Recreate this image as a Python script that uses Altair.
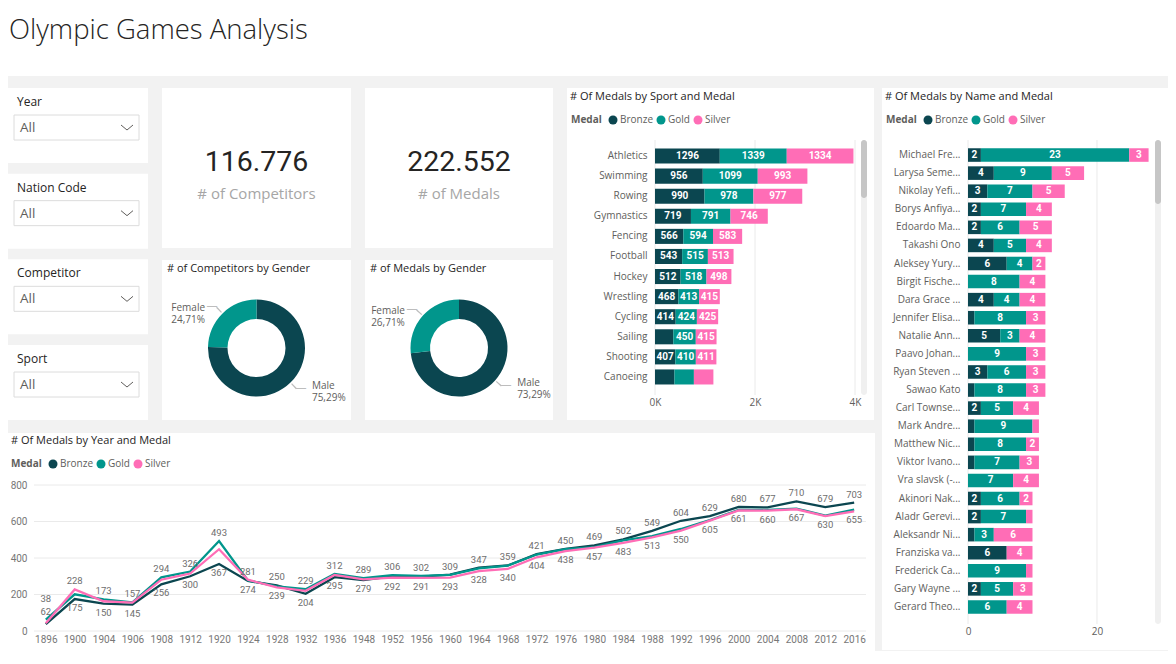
import altair as alt
import pandas as pd

FONT = "Open Sans"
NUM_FONT = "Roboto"
TITLE_C = "#252423"
LABEL_C = "#605E5C"
GRID_C = "#EAEAEA"
BG = "#F2F2F2"
WHITE_VIEW = alt.ViewBackground(fill="white", strokeWidth=0)

# ---------------- data ----------------
MEDALS = ["Bronze", "Gold", "Silver"]
MEDAL_COLORS = ["#0B4650", "#01968C", "#FF6DB6"]

page_title = "Olympic Games Analysis"

slicer_titles = ["Year", "Nation Code", "Competitor", "Sport"]
slicer_values = ["All", "All", "All", "All"]

kpi_values = [116776, 222552]
kpi_labels = ["# of Competitors", "# of Medals"]

genders = ["Male", "Female"]
gender_colors = ["#0B4650", "#01968C"]
donut_titles = ["# of Competitors by Gender", "# of Medals by Gender"]
competitor_gender_pct = [75.29, 24.71]
medal_gender_pct = [73.29, 26.71]

sports = ["Athletics", "Swimming", "Rowing", "Gymnastics", "Fencing", "Football",
          "Hockey", "Wrestling", "Cycling", "Sailing", "Shooting", "Canoeing"]
sport_bronze = [1296, 956, 990, 719, 566, 543, 512, 468, 414, 366, 407, 389]
sport_gold = [1339, 1099, 978, 791, 594, 515, 518, 413, 424, 450, 410, 389]
sport_silver = [1334, 993, 977, 746, 583, 513, 498, 415, 425, 415, 411, 390]
sport_ticks = [0, 2000, 4000]

names = ["Michael Fre...", "Larysa Seme...", "Nikolay Yefi...", "Borys Anfiya...",
         "Edoardo Ma...", "Takashi Ono", "Aleksey Yury...", "Birgit Fische...",
         "Dara Grace ...", "Jennifer Elisa...", "Natalie Ann...", "Paavo Johan...",
         "Ryan Steven ...", "Sawao Kato", "Carl Townse...", "Mark Andre...",
         "Matthew Nic...", "Viktor Ivano...", "Vra slavsk (-...", "Akinori Nak...",
         "Aladr Gerevi...", "Aleksandr Ni...", "Franziska va...", "Frederick Ca...",
         "Gary Wayne ...", "Gerard Theo..."]
name_bronze = [2, 4, 3, 2, 2, 4, 6, 0, 4, 1, 5, 0, 3, 1, 2, 1, 1, 1, 0, 2, 2, 1, 6, 0, 2, 0]
name_gold = [23, 9, 7, 7, 6, 5, 4, 8, 4, 8, 3, 9, 6, 8, 5, 9, 8, 7, 7, 6, 7, 3, 0, 9, 5, 6]
name_silver = [3, 5, 5, 4, 5, 4, 2, 4, 4, 3, 4, 3, 3, 3, 4, 1, 2, 3, 4, 2, 1, 6, 4, 1, 3, 4]
name_ticks = [0, 20]

years = [1896, 1900, 1904, 1906, 1908, 1912, 1920, 1924, 1928, 1932, 1936, 1948, 1952,
         1956, 1960, 1964, 1968, 1972, 1976, 1980, 1984, 1988, 1992, 1996, 2000, 2004,
         2008, 2012, 2016]
year_bronze = [38, 175, 150, 145, 256, 300, 367, 274, 250, 204, 295, 279, 300, 298, 309,
               347, 359, 421, 450, 469, 502, 549, 604, 629, 680, 677, 710, 679, 703]
year_gold = [62, 201, 173, 157, 294, 326, 493, 277, 245, 229, 312, 289, 306, 302, 308,
             343, 358, 419, 448, 460, 497, 520, 559, 608, 663, 664, 671, 632, 665]
year_silver = [43, 228, 163, 156, 281, 315, 448, 281, 239, 220, 307, 283, 292, 291, 293,
               328, 340, 404, 438, 457, 483, 513, 550, 605, 661, 660, 667, 630, 655]
year_ticks = [0, 200, 400, 600, 800]


# ---------------- helpers ----------------
def one(**kw):
    return pd.DataFrame({k: [v] for k, v in kw.items()})


def rect(x1, x2, y1, y2, fill="white", stroke=None, r=0):
    kw = dict(fill=fill, cornerRadius=r, strokeWidth=0)
    if stroke:
        kw.update(stroke=stroke, strokeWidth=1)
    return alt.Chart(one(k=0)).mark_rect(**kw).encode(
        x=alt.value(x1), x2=alt.value(x2), y=alt.value(y1), y2=alt.value(y2))


def text(t, x, y, size=12, color=TITLE_C, font=FONT, align="left",
         baseline="middle", weight="normal"):
    return alt.Chart(one(t=t)).mark_text(
        align=align, baseline=baseline, fontSize=size, color=color,
        font=font, fontWeight=weight).encode(
        text="t:N", x=alt.value(x), y=alt.value(y))


def seg(x1, y1, x2, y2, color=LABEL_C):
    return alt.Chart(one(k=0)).mark_rule(color=color, strokeWidth=1).encode(
        x=alt.value(x1), y=alt.value(y1), x2=alt.value(x2), y2=alt.value(y2))


def medal_legend(x, y):
    return alt.Legend(
        orient="none", legendX=x, legendY=y, direction="horizontal",
        title="Medal", titleOrient="left", titleFont=FONT, titleFontSize=10,
        titleFontWeight="bold", titleColor=LABEL_C, titlePadding=6,
        labelFont=FONT, labelFontSize=10, labelColor=LABEL_C,
        symbolType="circle", symbolSize=81, symbolStrokeWidth=0,
        symbolOpacity=1, columnPadding=3, labelOffset=2)


def H(*charts, spacing=10):
    c = alt.concat(*charts, columns=len(charts), spacing=spacing, align="none")
    return c.resolve_scale(color="independent", theta="independent")


def V(*charts, spacing=10):
    c = alt.concat(*charts, columns=1, spacing=spacing, align="none")
    return c.resolve_scale(color="independent", theta="independent")


# ---------------- panels ----------------
def title_band():
    return text(page_title, 1, 31, size=27.5, weight=300, baseline="alphabetic").properties(
        width=1160, height=68, view=WHITE_VIEW)


def slicer(title, value):
    return alt.layer(
        text(title, 9, 14, size=12),
        rect(6, 131, 27, 52, fill="white", stroke="#DCDCDC"),
        text(value, 12, 40, size=13.5, color=LABEL_C),
        seg(113, 37, 119, 42),
        seg(119, 42, 125, 37),
    ).properties(width=140, height=75, view=WHITE_VIEW)


def kpi(value, label, w):
    num = alt.Chart(one(v=value)).transform_calculate(
        s="replace(format(datum.v, ','), ',', '.')"
    ).mark_text(font=NUM_FONT, fontSize=28.5, color=TITLE_C, baseline="middle",
                align="center").encode(text="s:N", x=alt.value(w / 2), y=alt.value(74))
    lab = text(label, w / 2, 106, size=15, color="#A6A6A6", align="center")
    return alt.layer(num, lab).properties(width=w, height=160, view=WHITE_VIEW)


def donut(title, pct, w):
    df = pd.DataFrame({"g": genders, "pct": pct, "o": [0, 1]})
    base = alt.Chart(df).transform_stack(
        stack="pct", groupby=[], sort=[alt.SortField("o")], as_=["t0", "t1"]
    ).transform_calculate(
        mid="(datum.t0 + datum.t1) / 2",
        m0="(datum.t0 + datum.t1) / 2 - 0.2",
        m1="(datum.t0 + datum.t1) / 2 + 0.2",
        lbl="datum.g + '\\n' + replace(format(datum.pct / 100, '.2%'), '.', ',')",
    )
    tscale = alt.Scale(domain=[0, 100])
    arcs = base.mark_arc(innerRadius=29, outerRadius=48.5).encode(
        theta=alt.Theta("t0:Q", scale=tscale, stack=None), theta2="t1:Q",
        color=alt.Color("g:N", scale=alt.Scale(domain=genders, range=gender_colors),
                        legend=None))
    # short grey leader stubs at each slice's mid angle
    stubs = base.mark_arc(innerRadius=50, outerRadius=57, color="#BDBDBD").encode(
        theta=alt.Theta("m0:Q", scale=tscale, stack=None), theta2="m1:Q")
    fem_dash = base.transform_filter("datum.g == 'Female'").mark_text(
        radius=57, align="right", dx=1, dy=-1, font=FONT, fontSize=11,
        color="#BDBDBD").encode(
        theta=alt.Theta("mid:Q", scale=tscale, stack=None), text=alt.value("\u2014"))
    male_dash = base.transform_filter("datum.g == 'Male'").mark_text(
        radius=57, align="left", dx=-1, dy=-1, font=FONT, fontSize=11,
        color="#BDBDBD").encode(
        theta=alt.Theta("mid:Q", scale=tscale, stack=None), text=alt.value("\u2014"))
    fem = base.transform_filter("datum.g == 'Female'").mark_text(
        radius=62, align="right", dx=-8, dy=4, lineBreak="\n", font=FONT,
        fontSize=10, color=LABEL_C).encode(
        theta=alt.Theta("mid:Q", scale=tscale, stack=None), text="lbl:N")
    male = base.transform_filter("datum.g == 'Male'").mark_text(
        radius=62, align="left", dx=12, dy=-6, lineBreak="\n", font=FONT,
        fontSize=10, color=LABEL_C).encode(
        theta=alt.Theta("mid:Q", scale=tscale, stack=None), text="lbl:N")
    header = text(title, 5, 9, size=11).properties(width=w, height=16, view=WHITE_VIEW)
    body = alt.layer(arcs, stubs, fem_dash, male_dash, fem, male).properties(
        width=w, height=144, view=WHITE_VIEW)
    return V(header, body, spacing=0)


def stacked_panel(cats, b, g, s, ticks, dmax, lab_expr, min_label, title,
                  card_w, card_h, px0, px1, py0, py1, thumb_h):
    rows = []
    for i, c in enumerate(cats):
        for mi, (m, v) in enumerate(zip(MEDALS, (b[i], g[i], s[i]))):
            rows.append({"cat": c, "medal": m, "mi": mi, "v": v})
    df = pd.DataFrame(rows)
    base = alt.Chart(df).transform_stack(
        stack="v", groupby=["cat"], sort=[alt.SortField("mi")], as_=["x0", "x1"]
    ).transform_calculate(mid="(datum.x0 + datum.x1) / 2")
    yscale = alt.Scale(range=[py0, py1], paddingInner=0.25, paddingOuter=0.125)
    yaxis = alt.Axis(offset=-px0, labelPadding=8, labelFont=FONT, labelFontSize=10,
                     labelColor=LABEL_C, labelLimit=200, grid=False,
                     ticks=False, domain=False)
    xscale = alt.Scale(domain=[0, dmax], range=[px0, px1], nice=False, zero=True)
    axis_kw = dict(values=ticks, grid=False, labelPadding=10, offset=-(card_h - py1),
                   labelFont=FONT, labelFontSize=10, labelColor=LABEL_C,
                   labelFlush=False, ticks=False, domain=False)
    if lab_expr:
        axis_kw["labelExpr"] = lab_expr
    xaxis = alt.Axis(**axis_kw)
    xenc = alt.X("x0:Q", scale=xscale, title=None, axis=xaxis)
    yenc = alt.Y("cat:N", sort=cats, title=None, scale=yscale, axis=yaxis)
    grid = alt.Chart(pd.DataFrame({"t": ticks})).mark_rule(color=GRID_C).encode(
        x=alt.X("t:Q", scale=xscale, title=None, axis=xaxis),
        y=alt.value(py0 - 6), y2=alt.value(py1 + 8))
    bars = base.mark_bar().encode(
        x=xenc, x2="x1:Q", y=yenc,
        color=alt.Color("medal:N", scale=alt.Scale(domain=MEDALS, range=MEDAL_COLORS),
                        legend=medal_legend(4, 27)),
    )
    labels = base.transform_filter(f"datum.v >= {min_label}").mark_text(
        color="white", font=NUM_FONT, fontWeight="bold", fontSize=10,
        baseline="middle").encode(
        x=alt.X("mid:Q", scale=xscale, title=None, axis=xaxis),
        y=yenc, text="v:Q")
    sx = card_w - 13
    return alt.layer(
        text(title, 3, 9, size=11),
        rect(sx, sx + 6, py0 - 6, py1 + 8, fill="#F0F0F0", r=3),
        rect(sx, sx + 6, py0 - 6, py0 - 6 + thumb_h, fill="#C6C6C6", r=3),
        grid, bars, labels,
    ).properties(width=card_w, height=card_h, view=WHITE_VIEW)


def line_panel(card_w=867, card_h=218, px0=26, px1=858, py0=52, py1=198):
    rows = []
    for i, y in enumerate(years):
        for mi, (m, v) in enumerate(zip(MEDALS, (year_bronze[i], year_gold[i], year_silver[i]))):
            rows.append({"Year": y, "medal": m, "mi": mi, "v": v})
    df = pd.DataFrame(rows)
    xscale = alt.Scale(type="point", padding=0.41, range=[px0, px1])
    yscale = alt.Scale(domain=[0, 800], nice=False, range=[py1, py0])
    xaxis = alt.Axis(labelAngle=0, labelFont=NUM_FONT, labelFontSize=10,
                     labelColor="#777777", labelPadding=3, grid=False,
                     ticks=False, domain=False, offset=-(card_h - py1))
    yaxis = alt.Axis(values=year_ticks, grid=False, offset=-px0, labelFlush=False,
                     labelFont=NUM_FONT, labelFontSize=10,
                     labelColor="#777777", labelPadding=7, ticks=False, domain=False)
    xenc = alt.X("Year:O", scale=xscale, title=None, axis=xaxis)
    yenc = alt.Y("v:Q", scale=yscale, title=None, axis=yaxis)
    cscale = alt.Scale(domain=MEDALS, range=MEDAL_COLORS)
    legend = medal_legend(3, 26)
    grid = alt.Chart(pd.DataFrame({"t": year_ticks})).mark_rule(color=GRID_C).encode(
        y=alt.Y("t:Q", scale=yscale, title=None, axis=yaxis),
        x=alt.value(px0), x2=alt.value(px1))
    leg = alt.Chart(df).mark_circle(opacity=0, size=4).encode(
        x=xenc, y=yenc,
        color=alt.Color("medal:N", scale=cscale, legend=legend))
    lines = alt.Chart(df).mark_line(strokeWidth=2.3).encode(
        x=xenc, y=yenc, color=alt.Color("medal:N", scale=cscale, legend=legend))
    lab = alt.Chart(df).transform_joinaggregate(
        vmax="max(v)", vmin="min(v)", groupby=["Year"])
    lab_kw = dict(font=NUM_FONT, fontSize=9.5, color="#6E6E6E")
    top = lab.transform_filter("datum.v == datum.vmax").mark_text(dy=-8, **lab_kw).encode(
        x=xenc, y=yenc, text="v:Q")
    bot = lab.transform_filter("datum.v == datum.vmin && datum.v >= 100").mark_text(
        dy=9, **lab_kw).encode(x=xenc, y=yenc, text="v:Q")
    low = lab.transform_filter("datum.v == datum.vmin && datum.v < 100").mark_text(
        dy=-25, **lab_kw).encode(x=xenc, y=yenc, text="v:Q")
    return alt.layer(
        text("# Of Medals by Year and Medal", 3, 8, size=11),
        grid, leg, lines, top, bot, low,
    ).properties(width=card_w, height=card_h, view=WHITE_VIEW)


# ---------------- layout ----------------
slicer_col = V(*[slicer(t, v) for t, v in zip(slicer_titles, slicer_values)],
               spacing=10.67)
kpi_row = H(kpi(kpi_values[0], kpi_labels[0], 189),
            kpi(kpi_values[1], kpi_labels[1], 188), spacing=14)
donut_row = H(donut(donut_titles[0], competitor_gender_pct, 189),
              donut(donut_titles[1], medal_gender_pct, 188), spacing=14)
mid_col = V(kpi_row, donut_row, spacing=12)

sport_panel = stacked_panel(sports, sport_bronze, sport_gold, sport_silver,
                            ticks=sport_ticks, dmax=4000,
                            lab_expr="datum.value / 1000 + 'K'", min_label=400,
                            title="# Of Medals by Sport and Medal",
                            card_w=307, card_h=332, px0=88, px1=288, py0=58, py1=299,
                            thumb_h=58)

name_panel = stacked_panel(names, name_bronze, name_gold, name_silver,
                           ticks=name_ticks, dmax=28.84, lab_expr=None, min_label=2,
                           title="# Of Medals by Name and Medal",
                           card_w=286, card_h=562, px0=86, px1=272, py0=58, py1=528,
                           thumb_h=64)

row1 = H(slicer_col, mid_col, sport_panel, spacing=14)
left_col = V(row1, line_panel(), spacing=12)
body = H(left_col, name_panel, spacing=7)
chart = V(title_band(), body, spacing=12).properties(
    background=BG, padding=0
).configure_view(strokeWidth=0).configure(font=FONT)

chart.save("out.html", embed_options={"renderer": "svg", "actions": False})
